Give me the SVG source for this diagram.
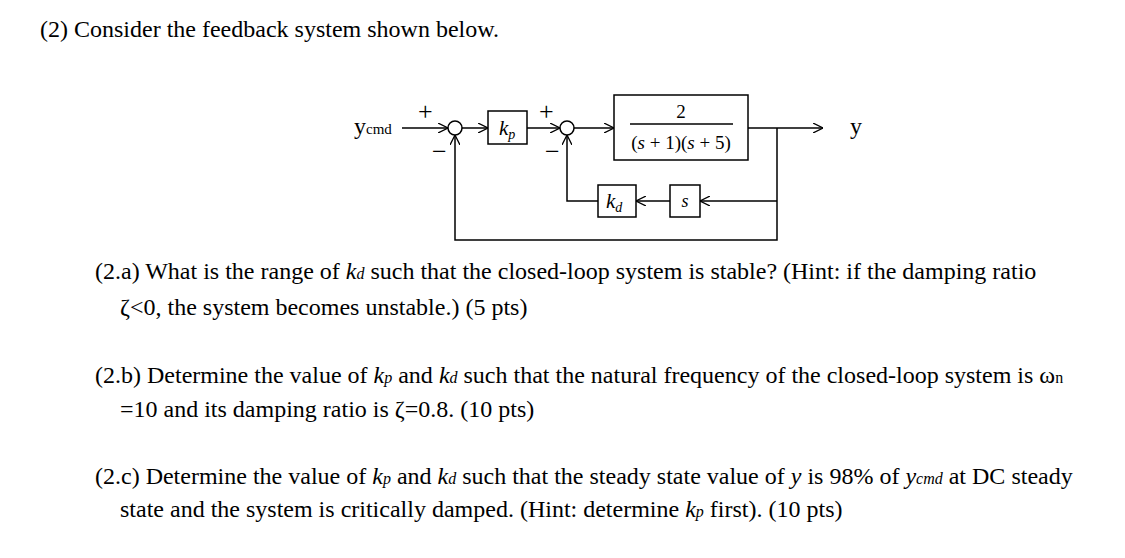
<svg xmlns="http://www.w3.org/2000/svg" width="1125" height="558" viewBox="0 0 1125 558">
<defs>
<style>
text{font-family:"Liberation Serif",serif;fill:#000}
.t{font-size:24px}
.b{fill:#fff;stroke:#000;stroke-width:1.5}
.c{fill:none;stroke:#000;stroke-width:1.5}
</style>
<marker id="a" viewBox="0 0 10 10" refX="10" refY="5" markerWidth="10" markerHeight="10" markerUnits="userSpaceOnUse" orient="auto"><path d="M0,0L10,5L0,10" fill="none" stroke="#000" stroke-width="1.3"/></marker>
</defs>
<rect width="1125" height="558" fill="#fff"/>
<text class="t" x="40" y="37">(2) Consider the feedback system shown below.</text>
<g id="connectors" class="c">
<path d="M402,128H448" marker-end="url(#a)"/>
<path d="M462,128H488" marker-end="url(#a)"/>
<path d="M527,128H560" marker-end="url(#a)"/>
<path d="M574,128H614" marker-end="url(#a)"/>
<path d="M748,128H823" marker-end="url(#a)"/>
<path d="M777,128V240H455V135" marker-end="url(#a)"/>
<path d="M777,201H700" marker-end="url(#a)"/>
<path d="M670,201H636" marker-end="url(#a)"/>
<path d="M598,201H567V135" marker-end="url(#a)"/>
</g>
<g id="sum1"><circle class="b" cx="455" cy="128" r="7"/><text x="418" y="120" font-size="26">+</text><text x="432" y="160" font-size="26">−</text></g>
<g id="sum2"><circle class="b" cx="567" cy="128" r="7"/><text x="539" y="120" font-size="26">+</text><text x="545" y="160" font-size="26">−</text></g>
<g id="kp"><rect class="b" x="488" y="111" width="39" height="33"/><text x="499" y="135" font-size="21" font-style="italic">k<tspan font-size="14" dy="4">p</tspan></text></g>
<g id="plant"><rect class="b" x="614" y="95" width="134" height="65"/><text x="681" y="118" font-size="19" text-anchor="middle">2</text><path d="M630,124H733" class="c" stroke-width="1"/><text x="681" y="149" font-size="19" text-anchor="middle">(<tspan font-style="italic">s</tspan> + 1)(<tspan font-style="italic">s</tspan> + 5)</text></g>
<g id="kd"><rect class="b" x="598" y="185" width="38" height="32"/><text x="606" y="208" font-size="21" font-style="italic">k<tspan font-size="14" dy="4">d</tspan></text></g>
<g id="s"><rect class="b" x="670" y="185" width="30" height="32"/><text x="685" y="207" font-size="18" font-style="italic" text-anchor="middle">s</text></g>
<text x="354" y="134" font-size="24">y<tspan font-size="15">cmd</tspan></text>
<text x="850" y="134" font-size="24">y</text>
<text class="t" x="95" y="279">(2.a) What is the range of <tspan font-style="italic">k</tspan><tspan font-size="16" font-style="italic">d</tspan> such that the closed-loop system is stable? (Hint: if the damping ratio</text>
<text class="t" x="120" y="315">ζ&lt;0, the system becomes unstable.) (5 pts)</text>
<text class="t" x="95" y="383">(2.b) Determine the value of <tspan font-style="italic">k</tspan><tspan font-size="16" font-style="italic">p</tspan> and <tspan font-style="italic">k</tspan><tspan font-size="16" font-style="italic">d</tspan> such that the natural frequency of the closed-loop system is ω<tspan font-size="16">n</tspan></text>
<text class="t" x="120" y="417">=10 and its damping ratio is ζ=0.8. (10 pts)</text>
<text class="t" x="95" y="484">(2.c) Determine the value of <tspan font-style="italic">k</tspan><tspan font-size="16" font-style="italic">p</tspan> and <tspan font-style="italic">k</tspan><tspan font-size="16" font-style="italic">d</tspan> such that the steady state value of <tspan font-style="italic">y</tspan> is 98% of <tspan font-style="italic">y</tspan><tspan font-size="16" font-style="italic">cmd</tspan> at DC steady</text>
<text class="t" x="120" y="517">state and the system is critically damped.  (Hint: determine <tspan font-style="italic">k</tspan><tspan font-size="16" font-style="italic">p</tspan> first). (10 pts)</text>
</svg>
